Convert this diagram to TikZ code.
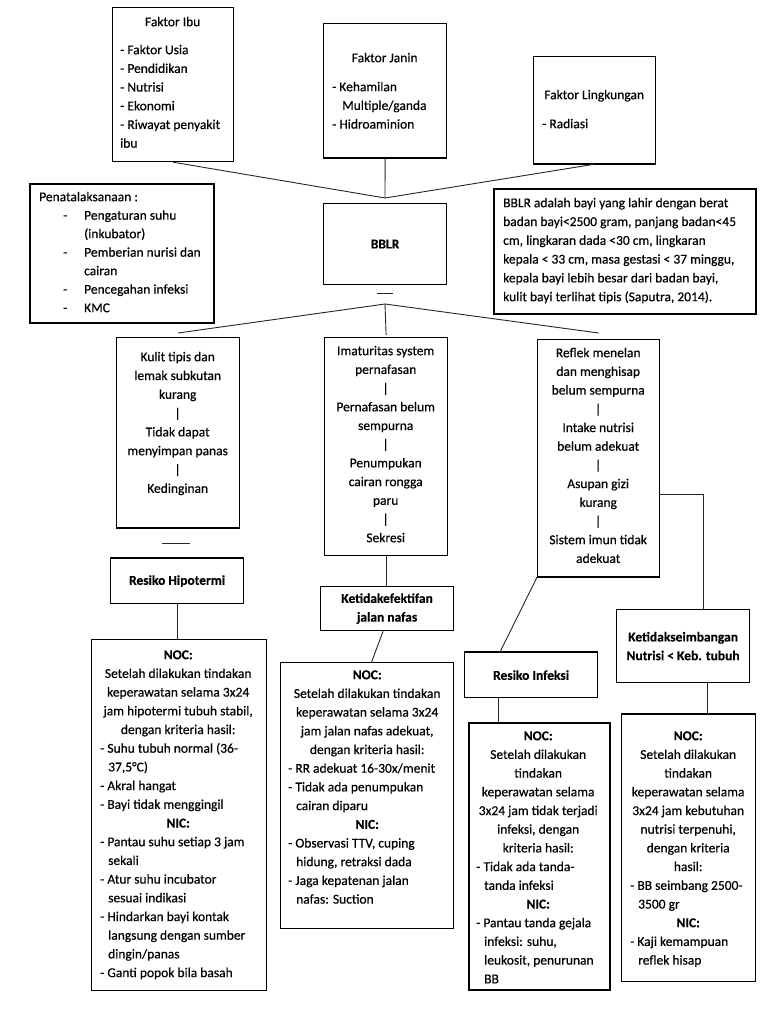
\documentclass[tikz,border=0pt]{standalone}
\usepackage{fontspec}
\setmainfont{Carlito}[FakeBold=0.45,BoldFeatures={FakeBold=0.3}]
\usetikzlibrary{calc}
\newcommand\bodyfont{\fontsize{13.5}{18.7}\selectfont}
\newcommand\LineC[1]{\hbox to\hsize{\hss\vrule height 10pt depth 0pt width 0pt\relax #1\hss}}
\newcommand\LineL[1]{\hbox to\hsize{\vrule height 10pt depth 0pt width 0pt\relax #1\hss}}
\newcommand\TB[2]{\vbox{\hsize=#1pt #2}}
\newcommand\Ind{\hspace*{8pt}}
\begin{document}
\begin{tikzpicture}[x=1pt,y=-1pt,
  box/.style={draw, line width=1.2pt, inner sep=0pt, anchor=north west, align=center, font=\bodyfont},
  thickbox/.style={box, line width=2pt},
  txt/.style={inner sep=0pt, anchor=north west, font=\bodyfont},
  conn/.style={line width=0.9pt, black!85},
  edge2/.style={line width=2.4pt}]
\fill[white] (0,0) rectangle (768,1024);
\useasboundingbox (0,0) rectangle (768,1024);

% ---------- top factors ----------
\node[box, minimum width=121pt, minimum height=154pt] (ibu) at (112,7) {};
\node[txt] (ibuT) at (112,16) {\TB{121}{\LineC{Faktor Ibu}}};
\node[txt] (ibuL) at (120,44) {\TB{110}{%
  \LineL{- Faktor Usia}\LineL{- Pendidikan}\LineL{- Nutrisi}\LineL{- Ekonomi}%
  \LineL{- Riwayat penyakit}\LineL{ibu}}};

\node[box, minimum width=123pt, minimum height=134pt] (janin) at (323,23) {};
\draw[edge2] (janin.south west) -- (janin.south east);
\node[txt] (janinT) at (323,52) {\TB{123}{\LineC{Faktor Janin}}};
\node[txt] (janinL) at (332,81) {\TB{110}{%
  \LineL{- Kehamilan}\LineL{\hspace*{10pt}Multiple/ganda}\LineL{- Hidroaminion}}};

\node[box, minimum width=122pt, minimum height=107pt] (lingk) at (533,56) {};
\draw[line width=1.8pt] (lingk.south west) -- (lingk.south east);
\node[txt] (lingkT) at (533,89) {\TB{122}{\LineC{Faktor Lingkungan}}};
\node[txt] (lingkL) at (542,118) {\TB{110}{\LineL{- Radiasi}}};

\coordinate (j1) at (385,198);
\draw[conn] (ibu.south) -- (j1);
\draw[conn] (janin.south) -- (j1);
\draw[conn] (lingk.south) -- (j1);

% ---------- middle row ----------
\node[thickbox, minimum width=184pt, minimum height=139pt] (pena) at (29,183) {};
\node[txt] (penaT) at (39,191) {\TB{172}{\baselineskip=18.5pt
  \LineL{Penatalaksanaan :}%
  \LineL{\hspace*{24pt}\makebox[21pt][l]{-}Pengaturan suhu}%
  \LineL{\hspace*{45pt}(inkubator)}%
  \LineL{\hspace*{24pt}\makebox[21pt][l]{-}Pemberian nurisi dan}%
  \LineL{\hspace*{45pt}cairan}%
  \LineL{\hspace*{24pt}\makebox[21pt][l]{-}Pencegahan infeksi}%
  \LineL{\hspace*{24pt}\makebox[21pt][l]{-}KMC}}};

\node[box, minimum width=123pt, minimum height=81pt] (bblr) at (323,203) {\textbf{BBLR}};

\node[thickbox, minimum width=262pt, minimum height=125pt] (def) at (493,188) {};
\node[txt] (defT) at (503,197) {\TB{250}{\baselineskip=18.8pt
  \LineL{BBLR adalah bayi yang lahir dengan berat}%
  \LineL{badan bayi<2500 gram, panjang badan<45}%
  \LineL{cm, lingkaran dada <30 cm, lingkaran}%
  \LineL{kepala < 33 cm, masa gestasi < 37 minggu,}%
  \LineL{kepala bayi lebih besar dari badan bayi,}%
  \LineL{kulit bayi terlihat tipis (Saputra, 2014).}}};

\coordinate (d1a) at (377,293);
\coordinate (d1b) at (393,293);
\draw[conn] (d1a) -- (d1b);

% ---------- pathophysiology boxes ----------
\node[box, minimum width=123pt, minimum height=190pt] (kulit) at (116,337) {};
\draw[edge2] (kulit.south west) -- (kulit.south east);
\node[txt] (kulitT) at (116,351) {\TB{123}{\baselineskip=18.8pt
  \LineC{Kulit tipis dan}\LineC{lemak subkutan}\LineC{kurang}\LineC{|}%
  \LineC{Tidak dapat}\LineC{menyimpan panas}\LineC{|}\LineC{Kedinginan}}};

\node[box, minimum width=123pt, minimum height=218pt] (imat) at (324,337) {};
\node[txt] (imatT) at (324,345) {\TB{123}{%
  \LineC{Imaturitas system}\LineC{pernafasan}\LineC{|}%
  \LineC{Pernafasan belum}\LineC{sempurna}\LineC{|}%
  \LineC{Penumpukan}\LineC{cairan rongga}\LineC{paru}\LineC{|}\LineC{Sekresi}}};

\node[box, minimum width=122pt, minimum height=237pt] (reflek) at (537,339) {};
\draw[edge2] (reflek.south west) -- (reflek.south east);
\node[txt] (reflekT) at (537,347) {\TB{122}{%
  \LineC{Reflek menelan}\LineC{dan menghisap}\LineC{belum sempurna}\LineC{|}%
  \LineC{Intake nutrisi}\LineC{belum adekuat}\LineC{|}%
  \LineC{Asupan gizi}\LineC{kurang}\LineC{|}%
  \LineC{Sistem imun tidak}\LineC{adekuat}}};

\coordinate (j2) at (385,304);
\draw[conn] (j2) -- ($(kulit.north)+(0,-4)$);
\draw[conn] (j2) -- ($(imat.north)+(0,-2)$);
\draw[conn] (j2) -- ($(reflek.north)+(0,-6)$);

\coordinate (d2a) at (162,543);
\coordinate (d2b) at (190,543);
\draw[conn] (d2a) -- (d2b);

% ---------- diagnoses ----------
\node[box, minimum width=133pt, minimum height=45pt] (hipo) at (110,558) {\textbf{Resiko Hipotermi}};
\draw[edge2] (hipo.north west) -- (hipo.north east);

\node[box, minimum width=133pt, minimum height=44pt] (ket) at (320,586) {\textbf{Ketidakefektifan}\\\textbf{jalan nafas}};

\node[box, minimum width=133pt, minimum height=73pt] (ketse) at (616,609) {\textbf{Ketidakseimbangan}\\\textbf{Nutrisi < Keb. tubuh}};

\node[box, minimum width=133pt, minimum height=45pt] (resinf) at (464,652) {\textbf{Resiko Infeksi}};
\draw[edge2] (resinf.north west) -- (resinf.north east);

\draw[conn] (imat.south) -- (imat.south |- ket.north);
\draw[conn] ($(reflek.north east)+(0,155)$) -| ($(ketse.north)+(20.5,0)$);
\draw[conn] (reflek.south west) -- ($(resinf.north west)+(36,0)$);

% ---------- NOC / NIC ----------
\node[box, minimum width=175pt, minimum height=351pt] (noc1) at (91,639) {};
\node[txt] (noc1T) at (100,649) {\TB{156}{%
  \LineC{\textbf{NOC:}}%
  \LineC{Setelah dilakukan tindakan}%
  \LineC{keperawatan selama 3x24}%
  \LineC{jam hipotermi tubuh stabil,}%
  \LineC{dengan kriteria hasil:}%
  \LineL{- Suhu tubuh normal (36-}%
  \LineL{\Ind 37,5°C)}%
  \LineL{- Akral hangat}%
  \LineL{- Bayi tidak menggingil}%
  \LineC{\textbf{NIC:}}%
  \LineL{- Pantau suhu setiap 3 jam}%
  \LineL{\Ind sekali}%
  \LineL{- Atur suhu incubator}%
  \LineL{\Ind sesuai indikasi}%
  \LineL{- Hindarkan bayi kontak}%
  \LineL{\Ind langsung dengan sumber}%
  \LineL{\Ind dingin/panas}%
  \LineL{- Ganti popok bila basah}}};

\node[box, minimum width=173pt, minimum height=266pt] (noc2) at (280,662) {};
\node[txt] (noc2T) at (288,669) {\TB{158}{%
  \LineC{\textbf{NOC:}}%
  \LineC{Setelah dilakukan tindakan}%
  \LineC{keperawatan selama 3x24}%
  \LineC{jam jalan nafas adekuat,}%
  \LineC{dengan kriteria hasil:}%
  \LineL{- RR adekuat 16-30x/menit}%
  \LineL{- Tidak ada penumpukan}%
  \LineL{\Ind cairan diparu}%
  \LineC{\textbf{NIC:}}%
  \LineL{- Observasi TTV, cuping}%
  \LineL{\Ind hidung, retraksi dada}%
  \LineL{- Jaga kepatenan jalan}%
  \LineL{\Ind nafas: Suction}}};

\node[box, line width=1.6pt, minimum width=141pt, minimum height=267pt] (noc3) at (468,722) {};
\node[txt] (noc3T) at (476,730) {\TB{124}{%
  \LineC{\textbf{NOC:}}%
  \LineC{Setelah dilakukan}%
  \LineC{tindakan}%
  \LineC{keperawatan selama}%
  \LineC{3x24 jam tidak terjadi}%
  \LineC{infeksi, dengan}%
  \LineC{kriteria hasil:}%
  \LineL{- Tidak ada tanda-}%
  \LineL{\Ind tanda infeksi}%
  \LineC{\textbf{NIC:}}%
  \LineL{- Pantau tanda gejala}%
  \LineL{\Ind infeksi: suhu,}%
  \LineL{\Ind leukosit, penurunan}%
  \LineL{\Ind BB}}};

\node[box, minimum width=134pt, minimum height=267pt] (noc4) at (621,714) {};
\draw[edge2] (noc4.north west) -- (noc4.north east);
\node[txt] (noc4T) at (630,730) {\TB{116}{%
  \LineC{\textbf{NOC:}}%
  \LineC{Setelah dilakukan}%
  \LineC{tindakan}%
  \LineC{keperawatan selama}%
  \LineC{3x24 jam kebutuhan}%
  \LineC{nutrisi terpenuhi,}%
  \LineC{dengan kriteria}%
  \LineC{hasil:}%
  \LineL{- BB seimbang 2500-}%
  \LineL{\Ind 3500 gr}%
  \LineC{\textbf{NIC:}}%
  \LineL{- Kaji kemampuan}%
  \LineL{\Ind reflek hisap}}};

\draw[conn] (hipo.south) -- (hipo.south |- noc1.north);
\draw[conn] ($(ket.south)+(-4,0)$) -- ($(noc2.north)+(4.5,0)$);
\draw[conn] ($(resinf.south west)+(34,0)$) coordinate (rs) -- (rs |- noc3.north);
\draw[conn] ($(ketse.south)+(24.5,0)$) coordinate (ks) -- (ks |- noc4.north);
\end{tikzpicture}
\end{document}
